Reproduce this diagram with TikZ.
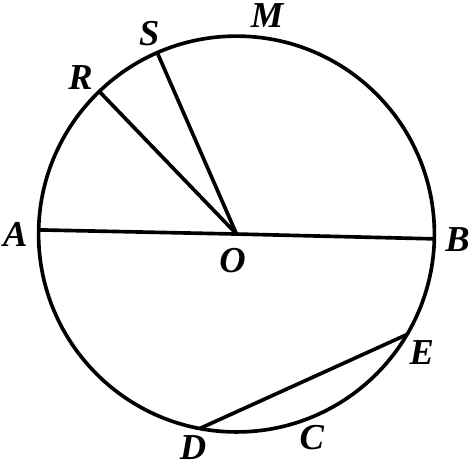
\documentclass[tikz,border=0pt]{standalone}
\usepackage{fontspec}
\setmainfont{Liberation Serif}
\usetikzlibrary{calc}

\begin{document}
\begin{tikzpicture}[line width=2.1pt, lbl/.style={font=\fontsize{21}{21}\selectfont\bfseries\itshape, inner sep=0pt}]
  \useasboundingbox (-4.78,-4.67) rectangle (4.80,4.73);
  % Points
  \coordinate (O) at (0,0);
  \coordinate (A) at (178.8:4);
  \coordinate (B) at (-1.4:4);
  \coordinate (R) at (133.9:4);
  \coordinate (S) at (113.6:4);
  \coordinate (E) at (-30.5:4);
  \coordinate (D) at (-100.7:4);
  % Labels
  \node[lbl] (lblA) at (180:4.47) {A};
  \node[lbl] (lblB) at (-1.5:4.47) {B};
  \node[lbl] (lblO) at ($(O)+(-0.08,-0.53)$) {O};
  \node[lbl] (lblR) at (135:4.46) {R};
  \node[lbl] (lblS) at (113.5:4.42) {S};
  \node[lbl] (lblM) at (82:4.46) {M};
  \node[lbl] (lblE) at (-32.5:4.44) {E};
  \node[lbl] (lblD) at (-101.5:4.4) {D};
  \node[lbl] (lblC) at (-69.7:4.39) {C};
  % Edges
  \draw (O) circle (4);
  \draw (A) -- (O) -- (B);
  \draw (O) -- (R);
  \draw (O) -- (S);
  \draw (D) -- (E);
\end{tikzpicture}
\end{document}
